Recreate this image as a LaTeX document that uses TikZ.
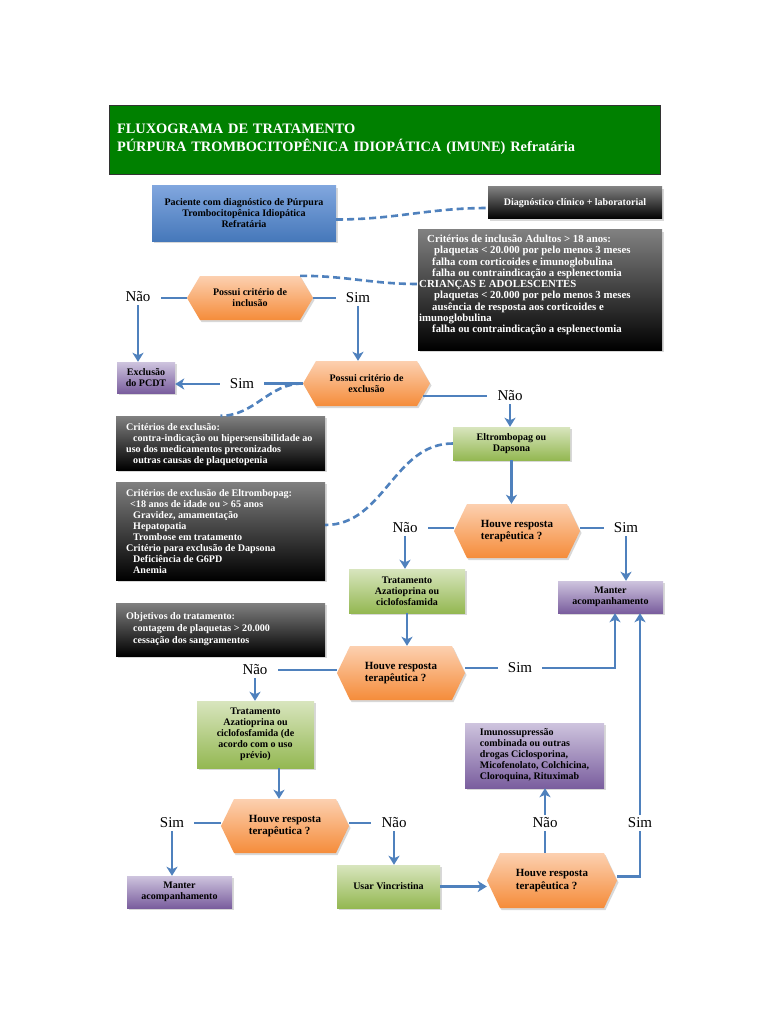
\documentclass[tikz,border=0pt]{standalone}
\usepackage{fontspec}
\setmainfont{Liberation Serif}
\usetikzlibrary{arrows.meta,shadows,calc}
\definecolor{titlegreen}{RGB}{0,128,0}
\definecolor{linkblue}{RGB}{79,129,189}
\definecolor{bluetop}{RGB}{128,166,222}
\definecolor{bluebot}{RGB}{70,120,186}
\definecolor{orgtop}{RGB}{252,208,176}
\definecolor{orgbot}{RGB}{245,140,58}
\definecolor{grntop}{RGB}{216,229,190}
\definecolor{grnbot}{RGB}{148,184,82}
\definecolor{purtop}{RGB}{206,196,222}
\definecolor{purbot}{RGB}{122,94,158}
\definecolor{blktop}{RGB}{128,128,128}
\definecolor{blkbot}{RGB}{0,0,0}
\newcommand{\titlef}{\fontsize{14.4}{18}\selectfont\bfseries}
\newcommand{\bxf}{\fontsize{10}{11}\selectfont\bfseries}
\newcommand{\respf}{\fontsize{11}{12.5}\selectfont\bfseries}
\newcommand{\lblf}{\fontsize{15}{16}\selectfont}
\newcommand{\inclf}{\fontsize{10.8}{11.25}\selectfont\bfseries}
\newcommand{\blkf}{\fontsize{10.1}{11}\selectfont\bfseries}
\tikzset{
  shd/.style={drop shadow={shadow xshift=1.5pt, shadow yshift=-2pt, opacity=0.3}},
  box/.style={rectangle, inner sep=2pt, align=center, font=\bxf, shd},
  bluebox/.style={box, top color=bluetop, bottom color=bluebot},
  greenbox/.style={box, top color=grntop, bottom color=grnbot},
  purplebox/.style={box, top color=purtop, bottom color=purbot},
  blackbox/.style={box, top color=blktop, bottom color=blkbot, text=white},
  bktext/.style={inner sep=0pt, align=left, text=white, font=\blkf, anchor=west},
  hexfill/.style={top color=orgtop, bottom color=orgbot, shd},
  hextext/.style={rectangle, inner sep=0pt, align=center, font=\bxf},
  lbl/.style={font=\lblf, inner xsep=10pt, inner ysep=3pt},
  conn/.style={draw=linkblue, line width=2.8pt},
  arr/.style={conn, -{Stealth[length=9pt,width=11pt,inset=2.5pt]}},
  dashline/.style={draw=linkblue, line width=2.6pt, dash pattern=on 7pt off 4pt},
  titlebox/.style={rectangle, fill=titlegreen, draw=black!80, line width=0.8pt, minimum width=551pt, minimum height=69pt, text width=535pt, inner xsep=8pt, align=left, text=white, font=\titlef},
}
\newcommand{\hexnode}[7][]{%
  \path[hexfill] ({#3-#5},#4) -- ({#3-#5+13},{#4-#6}) -- ({#3+#5-13},{#4-#6}) -- ({#3+#5},#4) -- ({#3+#5-13},{#4+#6}) -- ({#3-#5+13},{#4+#6}) -- cycle;
  \node[hextext, minimum width={2*#5pt}, minimum height={2*#6pt}, #1] (#2) at (#3,#4) {#7};
}
\begin{document}
\begin{tikzpicture}[x=1pt,y=-1pt]
\fill[white] (0,0) rectangle (768,1024);
\useasboundingbox (0,0) rectangle (768,1024);

% title
\node[titlebox] (title) at (384.5,139.5) {FLUXOGRAMA DE TRATAMENTO\\PÚRPURA TROMBOCITOPÊNICA IDIOPÁTICA (IMUNE) Refratária};

% boxes
\node[bluebox, minimum width=184pt, minimum height=55pt] (pac) at (244,213.5) {Paciente com diagnóstico de Púrpura\\Trombocitopênica Idiopática\\Refratária};
\node[blackbox, minimum width=174pt, minimum height=32pt] (diag) at (575,203) {Diagnóstico clínico + laboratorial};
\node[blackbox, minimum width=244pt, minimum height=120pt] (incl) at (540,290) {};
\node[bktext, font=\inclf] (incltxt) at (419,285) {\hspace*{8pt}Critérios de inclusão Adultos > 18 anos:\\
\hspace*{15pt}plaquetas < 20.000 por pelo menos 3 meses\\
\hspace*{13pt}falha com corticoides e imunoglobulina\\
\hspace*{13pt}falha ou contraindicação a esplenectomia\\
CRIANÇAS E ADOLESCENTES\\
\hspace*{15pt}plaquetas < 20.000 por pelo menos 3 meses\\
\hspace*{13pt}ausência de resposta aos corticoides e\\
imunoglobulina\\
\hspace*{13pt}falha ou contraindicação a esplenectomia};

\node[blackbox, minimum width=209pt, minimum height=54pt] (critex) at (220.5,443) {};
\node[bktext] (critextxt) at (126,444.5) {Critérios de exclusão:\\
\hspace*{7pt}contra-indicação ou hipersensibilidade ao\\
uso dos medicamentos preconizados\\
\hspace*{7pt}outras causas de plaquetopenia};

\node[blackbox, minimum width=209pt, minimum height=98pt] (critelt) at (220.5,531) {};
\node[bktext] (critelttxt) at (126,532) {Critérios de exclusão de Eltrombopag:\\
\hspace*{4pt}<18 anos de idade ou > 65 anos\\
\hspace*{7pt}Gravidez, amamentação\\
\hspace*{7pt}Hepatopatia\\
\hspace*{7pt}Trombose em tratamento\\
Critério para exclusão de Dapsona\\
\hspace*{7pt}Deficiência de G6PD\\
\hspace*{7pt}Anemia};

\node[blackbox, minimum width=209pt, minimum height=53pt] (obj) at (220.5,629.5) {};
\node[bktext, font=\fontsize{10.1}{12}\selectfont\bfseries] (objtxt) at (126,629) {Objetivos do tratamento:\\
\hspace*{7pt}contagem de plaquetas > 20.000\\
\hspace*{7pt}cessação dos sangramentos};

\node[purplebox, minimum width=58pt, minimum height=31pt] (excl) at (146,377.5) {Exclusão\\do PCDT};
\node[greenbox, minimum width=117pt, minimum height=33pt] (elt) at (511.5,443.5) {Eltrombopag ou\\Dapsona};
\node[greenbox, minimum width=116pt, minimum height=44pt] (trat1) at (407,591) {Tratamento\\Azatioprina ou\\ciclofosfamida};
\node[purplebox, minimum width=105pt, minimum height=32pt] (man1) at (610.5,597) {Manter\\acompanhamento};
\node[greenbox, minimum width=117pt, minimum height=67pt] (trat2) at (255.5,734.5) {Tratamento\\Azatioprina ou\\ciclofosfamida (de\\acordo com o uso\\prévio)};
\node[purplebox, minimum width=139pt, minimum height=65pt, align=left] (imuno) at (534.5,755.5) {Imunossupressão\\combinada ou outras\\drogas Ciclosporina,\\Micofenolato, Colchicina,\\Cloroquina, Rituximab};
\node[purplebox, minimum width=105pt, minimum height=32pt] (man2) at (179.5,892) {Manter\\acompanhamento};
\node[greenbox, minimum width=103pt, minimum height=43pt] (vinc) at (388.5,886.5) {Usar Vincristina};

% hexagons
\hexnode{hincl}{250}{298}{63}{22}{Possui critério de\\inclusão}
\hexnode{hexcl}{366.5}{383.5}{63.5}{22.5}{Possui critério de\\exclusão}
\hexnode[align=left, font=\respf]{hr1}{517}{531}{63}{27}{Houve resposta\\terapêutica ?}
\hexnode[align=left, font=\respf]{hr2}{401}{673}{64}{27}{Houve resposta\\terapêutica ?}
\hexnode[align=left, font=\respf]{hr3}{285}{826}{64}{27}{Houve resposta\\terapêutica ?}
\hexnode[align=left, font=\respf]{hr4}{552}{880.5}{65}{27.5}{Houve resposta\\terapêutica ?}

% labels
\node[lbl] (n1) at (138,297) {Não};
\node[lbl] (s1) at (358,298) {Sim};
\node[lbl] (s2) at (242,384) {Sim};
\node[lbl] (n2) at (510,396) {Não};
\node[lbl] (n3) at (405,528) {Não};
\node[lbl] (s3) at (626,528) {Sim};
\node[lbl] (n4) at (255,670) {Não};
\node[lbl] (s4) at (520,668) {Sim};
\node[lbl] (s5) at (172,823) {Sim};
\node[lbl] (n5) at (394,823) {Não};
\node[lbl] (n6) at (545,823) {Não};
\node[lbl] (s6) at (640,823) {Sim};

% connectors
\draw[conn] (hincl.west) -- (hincl.west -| n1.east);
\draw[arr] (n1.south) -- (n1.south |- excl.north);
\draw[conn] (hincl.east) -- (hincl.east -| s1.west);
\draw[arr] (s1.south) -- (s1.south |- hexcl.north);
\draw[conn] (hexcl.west) -- (hexcl.west -| s2.east);
\draw[arr] (s2.west) -- (s2.west -| excl.east);
\draw[conn] ([xshift=-7pt]hexcl.east |- n2.west) -- (n2.west);
\draw[arr] (n2.south) -- (n2.south |- elt.north);
\draw[arr] (elt.south) -- (elt.south |- hr1.north);
\draw[conn] (n3.east -| hr1.west) -- (n3.east);
\draw[conn] (s3.west -| hr1.east) -- (s3.west);
\draw[arr] (n3.south) -- (n3.south |- trat1.north);
\draw[arr] (s3.south) -- (s3.south |- man1.north);
\draw[arr] (trat1.south) -- (trat1.south |- hr2.north);
\draw[conn] (n4.east -| hr2.west) -- (n4.east);
\draw[arr] (n4.south) -- (n4.south |- trat2.north);
\draw[conn] (s4.west -| hr2.east) -- (s4.west);
\draw[arr] (s4.east) -| ([xshift=4.5pt]man1.south);
\draw[arr] ([xshift=23.5pt]trat2.south) -- ([xshift=23.5pt]trat2.south |- hr3.north);
\draw[conn] (s5.east -| hr3.west) -- (s5.east);
\draw[arr] (s5.south) -- (s5.south |- man2.north);
\draw[conn] (n5.west -| hr3.east) -- (n5.west);
\draw[arr] (n5.south) -- (n5.south |- vinc.north);
\draw[arr] (vinc.east) -- (vinc.east -| hr4.west);
\draw[conn] (n6.south |- hr4.north) -- (n6.south);
\draw[arr] (n6.north) -- (n6.north |- imuno.south);
\draw[conn] ([yshift=4pt]hr4.east) -| (s6.south);
\draw[arr] (s6.north) -- (s6.north |- man1.south);

% dashed links
\draw[dashline] ([yshift=-6pt]pac.east) to[out=0,in=180] ([yshift=-5pt]diag.west);
\draw[dashline] ([xshift=-13pt]hincl.north east) to[out=0,in=180] ([yshift=6pt]incl.west);
\draw[dashline] (hexcl.west) to[out=180,in=0] (critex.north);
\draw[dashline] (elt.west) to[out=180,in=0] ([yshift=6pt]critelt.east);
\end{tikzpicture}
\end{document}
